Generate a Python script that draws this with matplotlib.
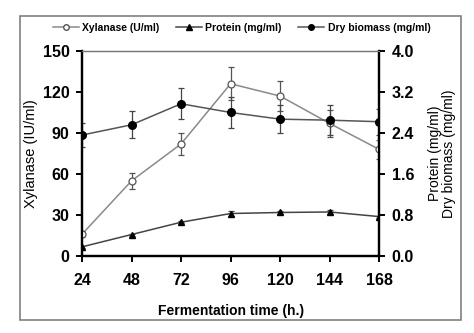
import numpy as np
import matplotlib
matplotlib.use('Agg')
from matplotlib import pyplot as plt
from matplotlib.patches import Rectangle
from matplotlib.lines import Line2D
matplotlib.rcParams['font.sans-serif'] = "Liberation Sans"
matplotlib.rcParams['font.family'] = "sans-serif"
matplotlib.rcParams['font.weight'] = "bold"

### data
hours = [24, 48, 72, 96, 120, 144, 168]
xylanase = [16, 55, 82, 126, 117, 97, 78]
xylanase_err = [2, 6, 8, 12, 11, 10, 7]
protein = [0.18, 0.42, 0.66, 0.83, 0.85, 0.86, 0.77]
protein_err = [0.02, 0.02, 0.02, 0.04, 0.03, 0.04, 0.02]
biomass = [2.36, 2.56, 2.97, 2.80, 2.67, 2.65, 2.62]
biomass_err = [0.24, 0.26, 0.30, 0.30, 0.27, 0.29, 0.25]

xticks = [24, 48, 72, 96, 120, 144, 168]
yticks_left = [0, 30, 60, 90, 120, 150]
yticks_right = [0.0, 0.8, 1.6, 2.4, 3.2, 4.0]

fig = plt.figure(figsize=(4.74, 3.33), dpi=100)
ax = fig.add_axes([0.173, 0.231, 0.627, 0.616])
ax2 = ax.twinx()

# outer frame around the whole chart
fig.patches.append(Rectangle((20/474, 1-320/333), 441/474, 304/333,
                             transform=fig.transFigure, fill=False,
                             edgecolor='#808080', lw=1.2))

ax.errorbar(hours, xylanase, yerr=xylanase_err, color='#8a8a8a', lw=1.1,
            marker='o', ms=5, mfc='white', mec='#555555', mew=0.9,
            ecolor='#555555', elinewidth=0.9, capsize=2.5, capthick=0.9,
            zorder=3)
ax2.errorbar(hours, protein, yerr=protein_err, color='#444444', lw=1.1,
             marker='^', ms=5, mfc='black', mec='black',
             ecolor='#444444', elinewidth=0.9, capsize=2.5, capthick=0.9)
ax2.errorbar(hours, biomass, yerr=biomass_err, color='#555555', lw=1.1,
             marker='o', ms=5.5, mfc='black', mec='black',
             ecolor='#444444', elinewidth=0.9, capsize=2.5, capthick=0.9)

ax.set_xlim(24, 168)
ax.set_ylim(0, 150)
ax2.set_ylim(0, 4.0)
ax.set_xticks(xticks)
ax.set_yticks(yticks_left)
ax2.set_yticks(yticks_right)
ax2.set_yticklabels(['%.1f' % v for v in yticks_right])

for a in (ax, ax2):
    a.spines['top'].set_color('#777777')
    a.spines['top'].set_linewidth(0.9)
    a.spines['left'].set_linewidth(1.6)
    a.spines['right'].set_linewidth(1.6)
    a.spines['bottom'].set_linewidth(1.6)
    a.tick_params(direction='out', length=4, width=1.4, labelsize=11.5, pad=5)
ax.tick_params(axis='x', pad=8)

ax.set_xlabel('Fermentation time (h.)', fontsize=10, fontweight='bold', labelpad=12)
ax.set_ylabel('Xylanase (IU/ml)', fontsize=10.5, fontweight='normal', labelpad=3)
ax2.set_ylabel('Protein (mg/ml)\nDry biomass (mg/ml)', fontsize=10, fontweight='normal',
               labelpad=10, linespacing=1.0)

# legend: line + marker only, no error bars
handles = [
    Line2D([], [], color='#8a8a8a', lw=1.1, marker='o', ms=4, mfc='white', mec='#555555'),
    Line2D([], [], color='#444444', lw=1.1, marker='^', ms=4, mfc='black', mec='black'),
    Line2D([], [], color='#555555', lw=1.1, marker='o', ms=4, mfc='black', mec='black'),
]
labels = ['Xylanase (U/ml)', 'Protein (mg/ml)', 'Dry biomass (mg/ml)']
fig.legend(handles, labels, loc='center', bbox_to_anchor=(0.51, 1-28/333),
           ncol=3, frameon=False, fontsize=7.5, handlelength=2.5,
           handletextpad=0.3, columnspacing=1.6)

plt.savefig('out.png', dpi=100)
